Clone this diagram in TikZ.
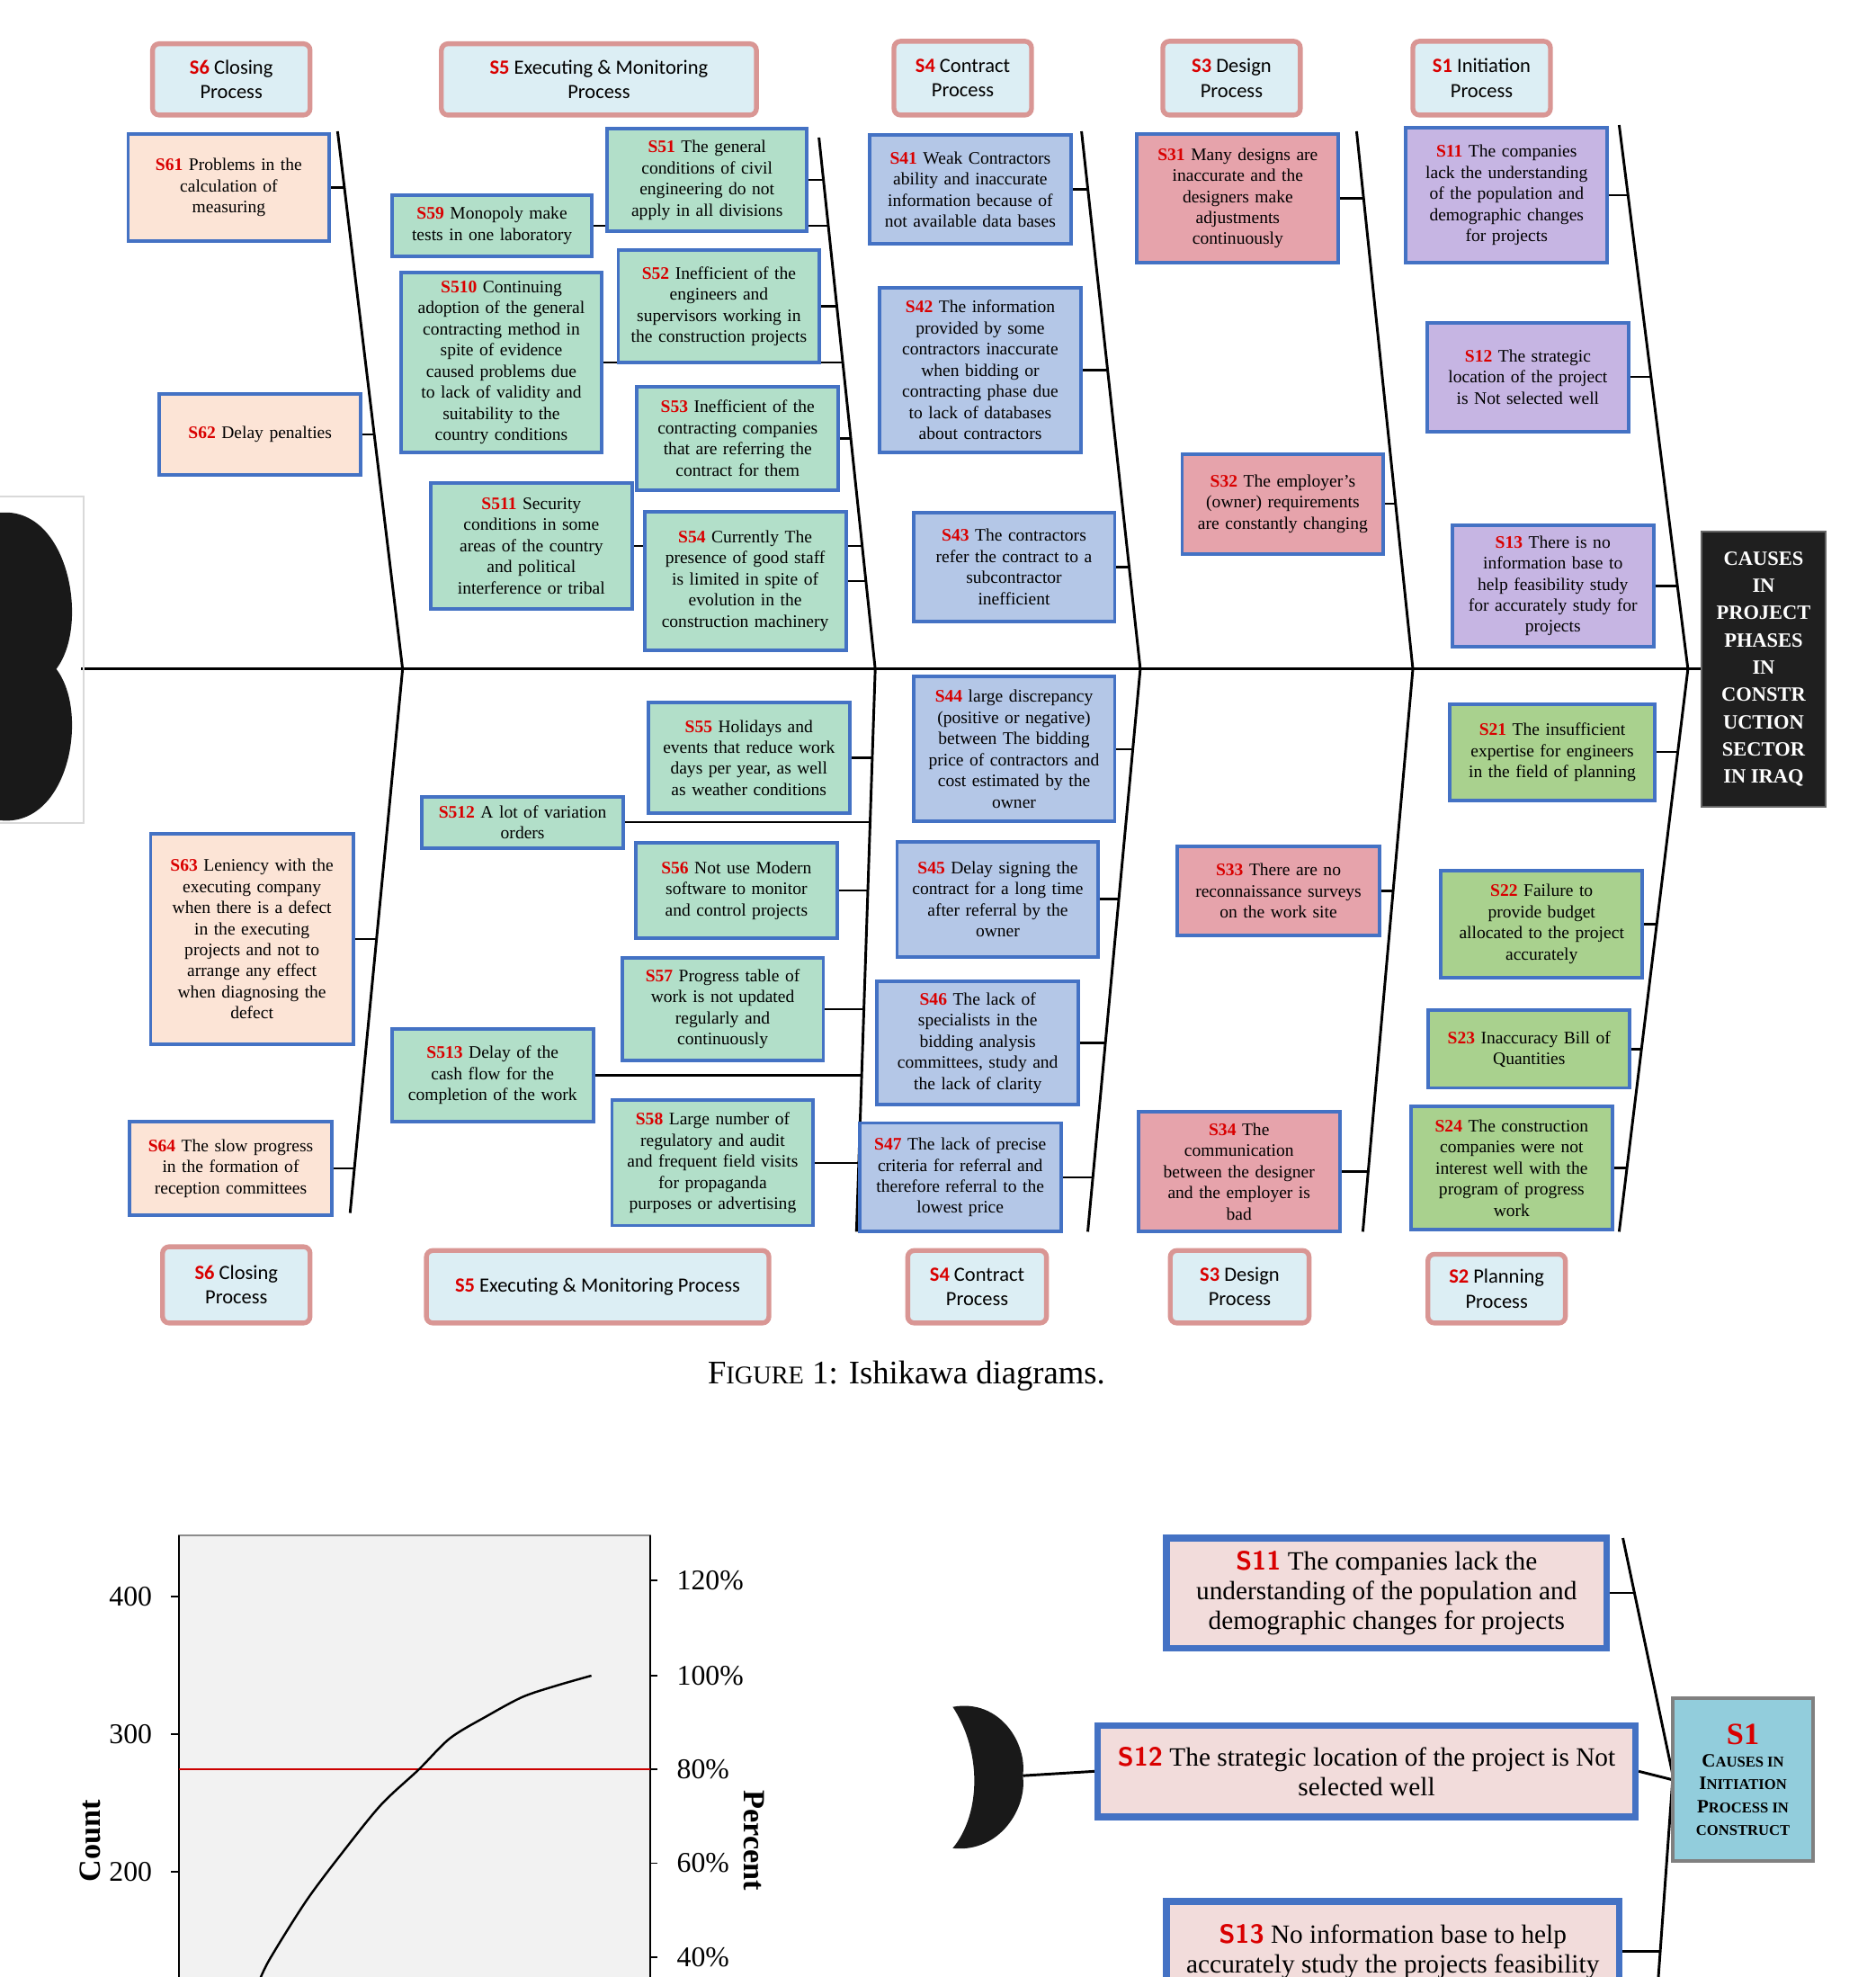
\documentclass[tikz,border=0pt]{standalone}
\usepackage{fontspec}
\setmainfont{Liberation Serif}
\newfontfamily\hdfont{Carlito}
\usetikzlibrary{intersections,backgrounds,calc}
\definecolor{bdr}{HTML}{4472C4}
\definecolor{cOr}{HTML}{FCE4D6}
\definecolor{cGr}{HTML}{B2DFC9}
\definecolor{cBl}{HTML}{B4C7E7}
\definecolor{cRd}{HTML}{E6A3AB}
\definecolor{cPu}{HTML}{C6B5E3}
\definecolor{cLg}{HTML}{A9D18E}
\definecolor{hdF}{HTML}{DCEEF4}
\definecolor{hdB}{HTML}{D99694}
\definecolor{pk}{HTML}{F2DCDB}
\definecolor{tl}{HTML}{92CDDC}
\newcommand\rl[1]{\textcolor{red!85!black}{\bfseries #1}}
\tikzset{
 box/.style={draw=bdr,line width=0.8pt,align=center,inner sep=1pt,font=\fontsize{4}{4.8}\selectfont},
 hd/.style={draw=hdB,fill=hdF,line width=1.1pt,rounded corners=1.5pt,align=center,font=\hdfont\fontsize{4.6}{5.6}\selectfont},
 conn/.style={line width=0.5pt},
 bone/.style={line width=0.6pt},
 bigbox/.style={draw=bdr,fill=pk,line width=1.5pt,align=center,inner sep=1pt,font=\fontsize{6}{6.8}\selectfont},
}
\newcommand\bb[7]{%
\pgfmathsetmacro\tw{(#4-#3)*0.1-0.6}%
\node[box,fill=#2,minimum width={(#4-#3)*0.1mm},minimum height={(#6-#5)*0.1mm},text width=\tw mm] (#1) at ({(#3+#4)/2},{(#5+#6)/2}) {#7};}
\newcommand\hh[6]{%
\node[hd,minimum width={(#3-#2)*0.1mm},minimum height={(#5-#4)*0.1mm}] (#1) at ({(#2+#3)/2},{(#4+#5)/2}) {#6};}
\newcommand\hb[2]{\path[name path=tmp] (#1.east) -- ++(300,0);
\draw[conn,name intersections={of=tmp and #2,sort by=tmp}] (#1.east) -- (intersection-1);}
\begin{document}
\begin{tikzpicture}[x=0.1mm,y=-0.1mm]
\useasboundingbox (0,0) rectangle (1500,1581);
\clip (0,0) rectangle (1500,1581);
% headers
\hh{h6t}{122}{248}{35}{92}{\rl{S6} Closing\\Process}
\hh{h5t}{353}{605}{35}{92}{\rl{S5} Executing \& Monitoring\\Process}
\hh{h4t}{715}{825}{33}{92}{\rl{S4} Contract\\Process}
\hh{h3t}{930}{1040}{33}{92}{\rl{S3} Design\\Process}
\hh{h1t}{1130}{1240}{33}{92}{\rl{S1} Initiation\\Process}
\hh{h6b}{130}{248}{997}{1058}{\rl{S6} Closing\\Process}
\hh{h5b}{341}{615}{1000}{1058}{\rl{S5} Executing \& Monitoring Process}
\hh{h4b}{726}{837}{1000}{1058}{\rl{S4} Contract\\Process}
\hh{h3b}{936}{1047}{1000}{1058}{\rl{S3} Design\\Process}
\hh{h2b}{1142}{1252}{1003}{1058}{\rl{S2} Planning\\Process}
% boxes
\bb{S61}{cOr}{103}{263}{107}{193}{\rl{S61} Problems in the\\calculation of\\measuring}
\bb{S62}{cOr}{128}{288}{315}{380}{\rl{S62} Delay penalties}
\bb{S63}{cOr}{121}{282}{667}{835}{\rl{S63} Leniency with the\\executing company\\when there is a defect\\in the executing\\projects and not to\\arrange any effect\\when diagnosing the\\defect}
\bb{S64}{cOr}{104}{265}{897}{972}{\rl{S64} The slow progress\\in the formation of\\reception committees}
\bb{S51}{cGr}{486}{645}{103}{185}{\rl{S51} The general\\conditions of civil\\engineering do not\\apply in all divisions}
\bb{S59}{cGr}{314}{473}{156}{205}{\rl{S59} Monopoly make\\tests in one laboratory}
\bb{S52}{cGr}{495}{655}{200}{290}{\rl{S52} Inefficient of the\\engineers and\\supervisors working in\\the construction projects}
\bb{S510}{cGr}{321}{481}{218}{362}{\rl{S510} Continuing\\adoption of the general\\contracting method in\\spite of evidence\\caused problems due\\to lack of validity and\\suitability to the\\country conditions}
\bb{S53}{cGr}{510}{670}{309}{392}{\rl{S53} Inefficient of the\\contracting companies\\that are referring the\\contract for them}
\bb{S511}{cGr}{345}{505}{386}{487}{\rl{S511} Security\\conditions in some\\areas of the country\\and political\\interference or tribal}
\bb{S54}{cGr}{516}{676}{409}{520}{\rl{S54} Currently The\\presence of good staff\\is limited in spite of\\evolution in the\\construction machinery}
\bb{S55}{cGr}{519}{679}{562}{650}{\rl{S55} Holidays and\\events that reduce work\\days per year, as well\\as weather conditions}
\bb{S512}{cGr}{338}{498}{637}{678}{\rl{S512} A lot of variation\\orders}
\bb{S56}{cGr}{509}{669}{674}{750}{\rl{S56} Not use Modern\\software to monitor\\and control projects}
\bb{S57}{cGr}{498}{658}{766}{848}{\rl{S57} Progress table of\\work is not updated\\regularly and\\continuously}
\bb{S513}{cGr}{314}{474}{823}{897}{\rl{S513} Delay of the\\cash flow for the\\completion of the work}
\bb{S58}{cGr}{490}{650}{880}{980}{\rl{S58} Large number of\\regulatory and audit\\and frequent field visits\\for propaganda\\purposes or advertising}
\bb{S41}{cBl}{696}{856}{108}{195}{\rl{S41} Weak Contractors\\ability and inaccurate\\information because of\\not available data bases}
\bb{S42}{cBl}{704}{864}{230}{362}{\rl{S42} The information\\provided by some\\contractors inaccurate\\when bidding or\\contracting phase due\\to lack of databases\\about contractors}
\bb{S43}{cBl}{731}{891}{410}{497}{\rl{S43} The contractors\\refer the contract to a\\subcontractor\\inefficient}
\bb{S44}{cBl}{731}{891}{541}{657}{\rl{S44} large discrepancy\\(positive or negative)\\between The bidding\\price of contractors and\\cost estimated by the\\owner}
\bb{S45}{cBl}{718}{878}{673}{765}{\rl{S45} Delay signing the\\contract for a long time\\after referral by the\\owner}
\bb{S46}{cBl}{702}{862}{785}{883}{\rl{S46} The lack of\\specialists in the\\bidding analysis\\committees, study and\\the lack of clarity}
\bb{S47}{cBl}{688}{848}{898}{985}{\rl{S47} The lack of precise\\criteria for referral and\\therefore referral to the\\lowest price}
\bb{S31}{cRd}{910}{1070}{107}{210}{\rl{S31} Many designs are\\inaccurate and the\\designers make\\adjustments\\continuously}
\bb{S32}{cRd}{946}{1106}{363}{443}{\rl{S32} The employer's\\(owner) requirements\\are constantly changing}
\bb{S33}{cRd}{942}{1103}{677}{748}{\rl{S33} There are no\\reconnaissance surveys\\on the work site}
\bb{S34}{cRd}{911}{1071}{889}{985}{\rl{S34} The\\communication\\between the designer\\and the employer is\\bad}
\bb{S11}{cPu}{1125}{1285}{102}{210}{\rl{S11} The companies\\lack the understanding\\of the population and\\demographic changes\\for projects}
\bb{S12}{cPu}{1142}{1302}{258}{345}{\rl{S12} The strategic\\location of the project\\is Not selected well}
\bb{S13}{cPu}{1162}{1322}{420}{517}{\rl{S13} There is no\\information base to\\help feasibility study\\for accurately study for\\projects}
\bb{S21}{cLg}{1160}{1323}{563}{640}{\rl{S21} The insufficient\\expertise for engineers\\in the field of planning}
\bb{S22}{cLg}{1153}{1313}{696}{782}{\rl{S22} Failure to\\provide budget\\allocated to the project\\accurately}
\bb{S23}{cLg}{1143}{1303}{808}{870}{\rl{S23} Inaccuracy Bill of\\Quantities}
\bb{S24}{cLg}{1129}{1289}{885}{983}{\rl{S24} The construction\\companies were not\\interest well with the\\program of progress\\work}
% head
\node[fill=black!88,draw=black!60,minimum width=8.5mm,minimum height=22mm,align=center,text=white,font=\bfseries\fontsize{4.6}{6.2}\selectfont] (head) at (1410.5,535) {CAUSES\\IN\\PROJECT\\PHASES\\IN\\CONSTR\\UCTION\\SECTOR\\IN IRAQ};
\coordinate (tail) at (65,535);
\begin{scope}[on background layer]
\draw[bone,name path global=b6] (270,105) -- (322,535) -- (280,970);
\draw[bone,name path global=b5] (655,110) -- (700,535) -- (685,985);
\draw[bone,name path global=b4] (865,105) -- (912,535) -- (870,985);
\draw[bone,name path global=b3] (1085,105) -- (1130,535) -- (1090,985);
\draw[bone,name path global=b1] (1295,100) -- (1350,535) -- (1295,985);
\draw[bone] (tail) -- (head.west);
\foreach \n in {S61,S62,S63,S64}{\hb{\n}{b6}}
\foreach \n in {S51,S59,S52,S510,S53,S511,S54,S55,S512,S56,S57,S513,S58}{\hb{\n}{b5}}
\foreach \n in {S41,S42,S43,S44,S45,S46,S47}{\hb{\n}{b4}}
\foreach \n in {S31,S32,S33,S34}{\hb{\n}{b3}}
\foreach \n in {S11,S12,S13,S21,S22,S23,S24}{\hb{\n}{b1}}
\end{scope}
% tail shape
\fill[black!90] (0,410) .. controls (55,405) and (72,500) .. (45,535) .. controls (72,570) and (55,662) .. (0,656) -- cycle;
\draw[black!15,line width=0.3pt] (0,397) -- (67,397) -- (67,658) -- (0,658);
% caption
\node[font=\fontsize{7.5}{9}\selectfont] (cap) at (725,1100) {F{\fontsize{5.8}{7}\selectfont IGURE} 1: Ishikawa diagrams.};
% chart
\fill[black!5] (143,1228) rectangle (520,1600);
\draw[black!45,line width=0.4pt] (143,1228) rectangle (520,1600);
\draw[line width=0.5pt] (143,1228) -- (143,1600) (520,1228) -- (520,1600);
\foreach \y/\t in {1277/400,1387/300,1497/200}{\draw (137,\y) -- (143,\y); \node[anchor=east,font=\fontsize{6.5}{7}\selectfont] at (134,\y) {\t};}
\foreach \y/\t in {1264/120,1340/100,1415/80,1490/60,1565/40}{\draw (520,\y) -- (526,\y); \node[anchor=west,font=\fontsize{6.5}{7}\selectfont] at (529,\y) {\t\%};}
\draw[red!80!black,line width=0.5pt] (143,1415) -- (520,1415);
\draw[line width=0.5pt] plot[smooth] coordinates {(205,1590) (215,1568) (245,1520) (275,1480) (305,1443) (335,1415) (360,1390) (390,1372) (418,1357) (445,1348) (473,1340)};
\node[rotate=90,font=\bfseries\fontsize{7}{8}\selectfont] (cnt) at (72,1472) {Count};
\node[rotate=-90,font=\bfseries\fontsize{7}{8}\selectfont] (pct) at (603,1472) {Percent};
% bottom right fishbone
\node[bigbox,minimum width=35.2mm,minimum height=8.8mm] (B11) at (1109,1274) {{\sffamily\rl{S11}} The companies lack the\\understanding of the population and\\demographic changes for projects};
\node[bigbox,minimum width=43mm,minimum height=7.3mm] (B12) at (1093,1416.5) {{\sffamily\rl{S12}} The strategic location of the project is Not\\selected well};
\node[bigbox,minimum width=36.2mm,minimum height=8mm,anchor=north] (B13) at (1114,1518) {{\sffamily\rl{S13}} No information base to help\\accurately study the projects feasibility};
\node[draw=black!50,fill=tl,line width=0.8pt,minimum width=11.2mm,minimum height=13mm] (H1) at (1394,1423) {};
\begin{scope}
\clip (1339,1359) rectangle (1449,1478);
\node[align=center,font=\bfseries\fontsize{4.3}{5.2}\selectfont,anchor=north] (H1t) at (1394,1366) {{\fontsize{7}{8}\selectfont\rl{S1}}\\C{\fontsize{3.4}{4}\selectfont AUSES IN}\\I{\fontsize{3.4}{4}\selectfont NITIATION}\\P{\fontsize{3.4}{4}\selectfont ROCESS IN}\\{\fontsize{3.4}{4}\selectfont CONSTRUCT}\\{\fontsize{3.4}{4}\selectfont ION SECTOR}\\{\fontsize{3.4}{4}\selectfont IN IRAQ}};
\end{scope}
\coordinate (t2) at (818,1420);
\begin{scope}[on background layer]
\draw[bone,name path global=bb1] (1298,1230) -- (1338,1420) -- (1325,1600);
\draw[bone] (t2) -- (B12.west);
\draw[bone] (B12.east) -- (H1.west);
\foreach \n in {B11,B13}{\hb{\n}{bb1}}
\end{scope}
\fill[black!90] (762,1365) .. controls (800,1358) and (822,1395) .. (818,1420) .. controls (822,1445) and (800,1482) .. (762,1478) .. controls (785,1450) and (785,1400) .. (762,1365) -- cycle;
\end{tikzpicture}
\end{document}
